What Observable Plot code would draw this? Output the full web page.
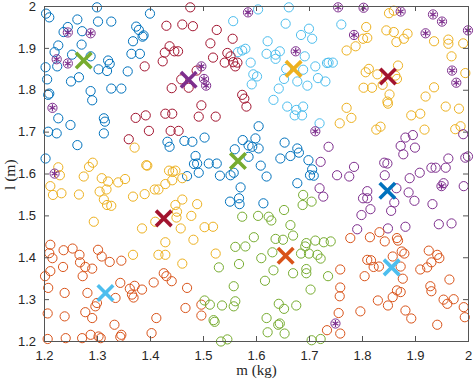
<!DOCTYPE html>
<html><head><meta charset="utf-8">
<script src="https://cdn.jsdelivr.net/npm/d3@7"></script>
<script src="https://cdn.jsdelivr.net/npm/@observablehq/plot@0.6"></script>
<style>body{margin:0;background:#fff}#chart{width:474px;height:382px}</style>
</head><body><div id="chart"></div>
<script>
// ---- data (m in kg, l in m) ----
const blueA = [[1.299,1.998],[1.203,1.983],[1.209,1.974],[1.262,1.969],[1.301,1.964],[1.326,1.964],[1.399,1.983],[1.244,1.951],[1.236,1.939],[1.271,1.941],[1.373,1.952],[1.378,1.944],[1.387,1.931],[1.385,1.928],[1.367,1.917],[1.226,1.907],[1.270,1.909],[1.219,1.891],[1.364,1.887],[1.380,1.887],[1.252,1.885],[1.287,1.881],[1.320,1.871],[1.323,1.863],[1.224,1.857],[1.202,1.855],[1.302,1.850],[1.318,1.846],[1.357,1.845],[1.265,1.831],[1.250,1.821],[1.205,1.826],[1.287,1.798],[1.290,1.776],[1.326,1.804],[1.345,1.804],[1.209,1.792],[1.207,1.789],[1.226,1.733],[1.312,1.733],[1.249,1.717],[1.207,1.701],[1.223,1.697],[1.314,1.725],[1.312,1.697],[1.262,1.669],[1.202,1.637]];
const blueB = [[1.432,1.677],[1.436,1.665],[1.464,1.679],[1.479,1.677],[1.604,1.714],[1.502,1.687],[1.574,1.681],[1.598,1.685],[1.585,1.668],[1.604,1.661],[1.592,1.665],[1.559,1.659],[1.653,1.675],[1.677,1.661],[1.680,1.651],[1.664,1.643],[1.645,1.637],[1.485,1.643],[1.488,1.625],[1.482,1.624],[1.510,1.625],[1.525,1.625],[1.585,1.641],[1.608,1.620],[1.698,1.633],[1.705,1.611],[1.701,1.597],[1.708,1.596],[1.469,1.595],[1.491,1.603],[1.531,1.596],[1.551,1.597],[1.557,1.603],[1.619,1.594],[1.570,1.568],[1.677,1.578],[1.567,1.542],[1.550,1.534],[1.568,1.528],[1.613,1.530]];
const darkRed = [[1.430,1.954],[1.460,1.957],[1.436,1.905],[1.427,1.890],[1.445,1.893],[1.452,1.893],[1.423,1.869],[1.389,1.857],[1.458,1.826],[1.440,1.805],[1.372,1.734],[1.391,1.740],[1.428,1.744],[1.441,1.744],[1.397,1.703],[1.359,1.683],[1.438,1.703],[1.453,1.703],[1.475,1.998],[1.480,1.953],[1.525,1.944],[1.513,1.912],[1.555,1.923],[1.545,1.889],[1.551,1.881],[1.540,1.866],[1.556,1.867],[1.564,1.866],[1.560,1.857],[1.518,1.878],[1.487,1.847],[1.472,1.806],[1.573,1.789],[1.577,1.780],[1.581,1.761],[1.496,1.764],[1.491,1.737],[1.523,1.737]];
const lightBlue = [[1.603,1.993],[1.661,1.998],[1.556,1.965],[1.655,1.959],[1.699,1.947],[1.684,1.932],[1.705,1.923],[1.621,1.917],[1.579,1.899],[1.573,1.895],[1.565,1.891],[1.619,1.887],[1.636,1.885],[1.644,1.893],[1.636,1.875],[1.589,1.866],[1.691,1.881],[1.711,1.857],[1.733,1.865],[1.688,1.849],[1.594,1.838],[1.601,1.833],[1.591,1.814],[1.652,1.827],[1.677,1.821],[1.696,1.811],[1.716,1.829],[1.730,1.821],[1.642,1.804],[1.632,1.777],[1.658,1.761],[1.675,1.753],[1.688,1.761],[1.672,1.740],[1.686,1.740],[1.760,1.957],[1.736,1.866],[1.744,1.866],[1.719,1.721],[1.656,1.851]];
const yellowA = [[1.850,1.984],[1.859,1.990],[1.807,1.951],[1.801,1.923],[1.809,1.925],[1.845,1.943],[1.859,1.939],[1.885,1.935],[1.878,1.923],[1.864,1.915],[1.770,1.895],[1.787,1.905],[1.935,1.917],[1.962,1.921],[1.962,1.911],[1.990,1.912],[1.968,1.881],[1.812,1.851],[1.806,1.843],[1.828,1.838],[1.867,1.859],[1.862,1.835],[1.865,1.827],[1.994,1.841],[1.802,1.806],[1.818,1.806],[1.838,1.813],[1.851,1.790],[1.847,1.773],[1.848,1.768],[1.935,1.807],[1.919,1.785],[1.770,1.758],[1.957,1.761],[1.982,1.756],[1.892,1.740],[1.909,1.744],[1.779,1.734],[1.757,1.721],[1.826,1.706],[1.834,1.713],[1.917,1.706],[1.975,1.707],[1.985,1.714]];
const yellowB = [[1.370,1.663],[1.226,1.616],[1.229,1.597],[1.284,1.617],[1.291,1.627],[1.392,1.621],[1.394,1.620],[1.274,1.594],[1.308,1.590],[1.320,1.582],[1.339,1.580],[1.352,1.588],[1.211,1.571],[1.216,1.550],[1.232,1.554],[1.265,1.551],[1.304,1.558],[1.317,1.563],[1.312,1.539],[1.318,1.526],[1.326,1.524],[1.367,1.546],[1.389,1.552],[1.408,1.563],[1.415,1.563],[1.435,1.608],[1.442,1.605],[1.447,1.608],[1.441,1.585],[1.428,1.576],[1.460,1.590],[1.460,1.539],[1.447,1.526],[1.450,1.510],[1.449,1.496],[1.293,1.486],[1.409,1.486],[1.384,1.470],[1.457,1.470],[1.488,1.528],[1.477,1.500],[1.502,1.473],[1.518,1.474],[1.428,1.437],[1.367,1.407],[1.415,1.407],[1.428,1.407],[1.460,1.386],[1.481,1.443],[1.523,1.410]];
const purple = [[1.721,1.629],[1.736,1.665],[1.719,1.566],[1.726,1.546],[1.990,1.695],[1.881,1.687],[1.895,1.693],[1.872,1.667],[1.899,1.663],[1.877,1.647],[1.784,1.617],[1.752,1.597],[1.775,1.594],[1.847,1.625],[1.841,1.627],[1.842,1.597],[1.962,1.637],[1.994,1.639],[1.999,1.642],[1.930,1.615],[1.938,1.615],[1.957,1.615],[1.908,1.603],[1.889,1.590],[1.953,1.578],[1.991,1.571],[1.864,1.566],[1.887,1.556],[1.809,1.559],[1.801,1.542],[1.809,1.542],[1.860,1.532],[1.898,1.536],[1.932,1.528],[1.815,1.516],[1.854,1.512],[1.798,1.502],[1.944,1.480],[1.968,1.482],[1.881,1.474],[1.848,1.470],[1.790,1.468]];
const green = [[1.688,1.550],[1.704,1.534],[1.687,1.526],[1.652,1.514],[1.573,1.498],[1.603,1.500],[1.623,1.498],[1.628,1.489],[1.664,1.478],[1.595,1.449],[1.636,1.445],[1.650,1.443],[1.669,1.453],[1.560,1.426],[1.579,1.427],[1.609,1.399],[1.630,1.413],[1.694,1.435],[1.711,1.441],[1.727,1.437],[1.740,1.439],[1.692,1.427],[1.684,1.410],[1.699,1.410],[1.715,1.407],[1.721,1.398],[1.529,1.377],[1.567,1.385],[1.632,1.370],[1.669,1.363],[1.694,1.373],[1.694,1.363],[1.735,1.356],[1.616,1.345],[1.702,1.324],[1.557,1.332],[1.502,1.298],[1.512,1.288],[1.535,1.286],[1.557,1.284],[1.560,1.296],[1.642,1.290],[1.652,1.278],[1.675,1.286],[1.519,1.251],[1.521,1.247],[1.619,1.256],[1.641,1.240],[1.644,1.243],[1.621,1.222],[1.653,1.219],[1.533,1.200],[1.545,1.205],[1.704,1.203],[1.721,1.206]];
const orangeA = [[1.211,1.431],[1.209,1.411],[1.215,1.399],[1.236,1.418],[1.253,1.422],[1.266,1.407],[1.301,1.419],[1.308,1.403],[1.267,1.389],[1.277,1.378],[1.290,1.374],[1.235,1.378],[1.323,1.390],[1.345,1.393],[1.211,1.368],[1.201,1.356],[1.272,1.356],[1.207,1.328],[1.238,1.316],[1.281,1.316],[1.343,1.340],[1.361,1.326],[1.370,1.333],[1.384,1.324],[1.406,1.341],[1.365,1.312],[1.368,1.305],[1.425,1.363],[1.430,1.356],[1.440,1.344],[1.334,1.304],[1.299,1.292],[1.296,1.284],[1.277,1.270],[1.206,1.267],[1.238,1.260],[1.290,1.256],[1.332,1.240],[1.411,1.256],[1.206,1.206],[1.240,1.208],[1.271,1.208],[1.287,1.216],[1.302,1.212],[1.306,1.208],[1.345,1.216],[1.343,1.211],[1.402,1.220],[1.466,1.280],[1.469,1.328],[1.496,1.288],[1.496,1.262]];
const orangeB = [[1.777,1.447],[1.814,1.449],[1.832,1.461],[1.842,1.439],[1.865,1.447],[1.867,1.441],[1.874,1.415],[1.879,1.410],[1.925,1.417],[1.941,1.407],[1.945,1.399],[1.809,1.395],[1.816,1.394],[1.821,1.378],[1.831,1.379],[1.872,1.379],[1.857,1.403],[1.909,1.372],[1.922,1.377],[1.930,1.389],[1.758,1.372],[1.804,1.356],[1.876,1.350],[1.964,1.348],[1.758,1.329],[1.757,1.308],[1.865,1.322],[1.872,1.318],[1.857,1.306],[1.829,1.298],[1.848,1.286],[1.928,1.332],[1.930,1.320],[1.953,1.300],[1.960,1.290],[1.972,1.301],[1.991,1.282],[1.796,1.272],[1.755,1.268],[1.881,1.274],[1.892,1.255],[1.993,1.258],[1.941,1.240],[1.733,1.227],[1.758,1.219]];
const flagged = [[1.244,1.938],[1.287,1.936],[1.223,1.874],[1.244,1.864],[1.215,1.758],[1.219,1.601],[1.496,1.857],[1.501,1.827],[1.505,1.811],[1.584,1.986],[1.674,1.893],[1.711,1.702],[1.754,1.998],[1.802,1.997],[1.872,1.988],[1.933,1.981],[1.950,1.964],[1.784,1.932],[1.919,1.936],[1.999,1.943],[1.969,1.847],[1.977,1.818],[1.949,1.571],[1.749,1.243]];
const centroidX = [1.274,1.472,1.670,1.848,1.565,1.425,1.847,1.655,1.855,1.315];
const centroidY = [1.871,1.825,1.851,1.833,1.631,1.494,1.560,1.405,1.377,1.316];
const centroidColor = ["green","purple","yellow","darkRed","green","darkRed","blue","orange","lightBlue","lightBlue"];
const xTicks = [1.2,1.3,1.4,1.5,1.6,1.7,1.8,1.9,2];
const xTickLabels = ["1.2","1.3","1.4","1.5","1.6","1.7","1.8","1.9","2"];
const yTicks = [1.2,1.3,1.4,1.5,1.6,1.7,1.8,1.9,2];
const yTickLabels = ["1.2","1.3","1.4","1.5","1.6","1.7","1.8","1.9","2"];

// ---- styling ----
const COLORS = {blue:"#0072BD", orange:"#D95319", yellow:"#EDB120", purple:"#7E2F8E", green:"#77AC30", lightBlue:"#4DBEEE", darkRed:"#A2142F"};
const groups = [
  [blueA,"blue"],[orangeA,"orange"],[yellowA,"yellow"],[purple,"purple"],[green,"green"],
  [lightBlue,"lightBlue"],[darkRed,"darkRed"],[blueB,"blue"],[orangeB,"orange"],[yellowB,"yellow"]
];
const points = groups.flatMap(([pts,c]) => pts.map(([x,y]) => ({x, y, c: COLORS[c]})));
const flaggedPts = flagged.map(([x,y]) => ({x, y}));
const centroids = centroidX.map((x,i) => ({x, y: centroidY[i], c: COLORS[centroidColor[i]]}));

const W = 474, H = 382, ML = 44, MR = 6, MT = 6, MB = 41;
const FW = W - ML - MR, FH = H - MT - MB;
const axisColor = "#555";
const serif = "'Liberation Serif', 'DejaVu Serif', serif";

const chart = Plot.plot({
  width: W, height: H, marginLeft: ML, marginRight: MR, marginTop: MT, marginBottom: MB,
  x: {domain: [1.2, 2]}, y: {domain: [1.2, 2]},
  color: {type: "identity"},
  style: {fontFamily: "'Liberation Sans', Arial, sans-serif", fontSize: "13px", color: "#262626", background: "#fff", overflow: "visible"},
  marks: [
    Plot.dot(points, {x: "x", y: "y", r: 4.6, stroke: "c", strokeWidth: 1, fill: "none"}),
    Plot.dot(flaggedPts, {x: "x", y: "y", r: 4.6, stroke: COLORS.purple, strokeWidth: 1, fill: "none"}),
    Plot.dot(flaggedPts, {x: "x", y: "y", r: 3.3, symbol: "asterisk", stroke: COLORS.purple, strokeWidth: 1.2}),
    Plot.dot(centroids, {x: "x", y: "y", r: 7.1, symbol: "times", stroke: "c", strokeWidth: 3.6}),
    Plot.frame({stroke: axisColor, strokeWidth: 1}),
    Plot.tickX(xTicks, {x: d => d, insetTop: FH - 5, stroke: axisColor}),
    Plot.tickX(xTicks, {x: d => d, insetBottom: FH - 5, stroke: axisColor}),
    Plot.tickY(yTicks, {y: d => d, insetRight: FW - 5, stroke: axisColor}),
    Plot.tickY(yTicks, {y: d => d, insetLeft: FW - 5, stroke: axisColor}),
    Plot.axisX({ticks: xTicks, tickSize: 0, tickPadding: 9.5, label: null, tickFormat: d => xTickLabels[xTicks.indexOf(d)]}),
    Plot.axisY({ticks: yTicks, tickSize: 0, tickPadding: 8.5, label: null, tickFormat: d => yTickLabels[yTicks.indexOf(d)]}),
    Plot.text(["m (kg)"], {text: d => d, frameAnchor: "bottom", dy: 33.5, fontFamily: serif, fontSize: 15, fill: "#262626"}),
    Plot.text(["l (m)"], {text: d => d, frameAnchor: "left", dx: -34, dy: 16, rotate: -90, fontFamily: serif, fontSize: 15.5, fill: "#262626"})
  ]
});
document.getElementById("chart").appendChild(chart);
</script>
</body></html>
